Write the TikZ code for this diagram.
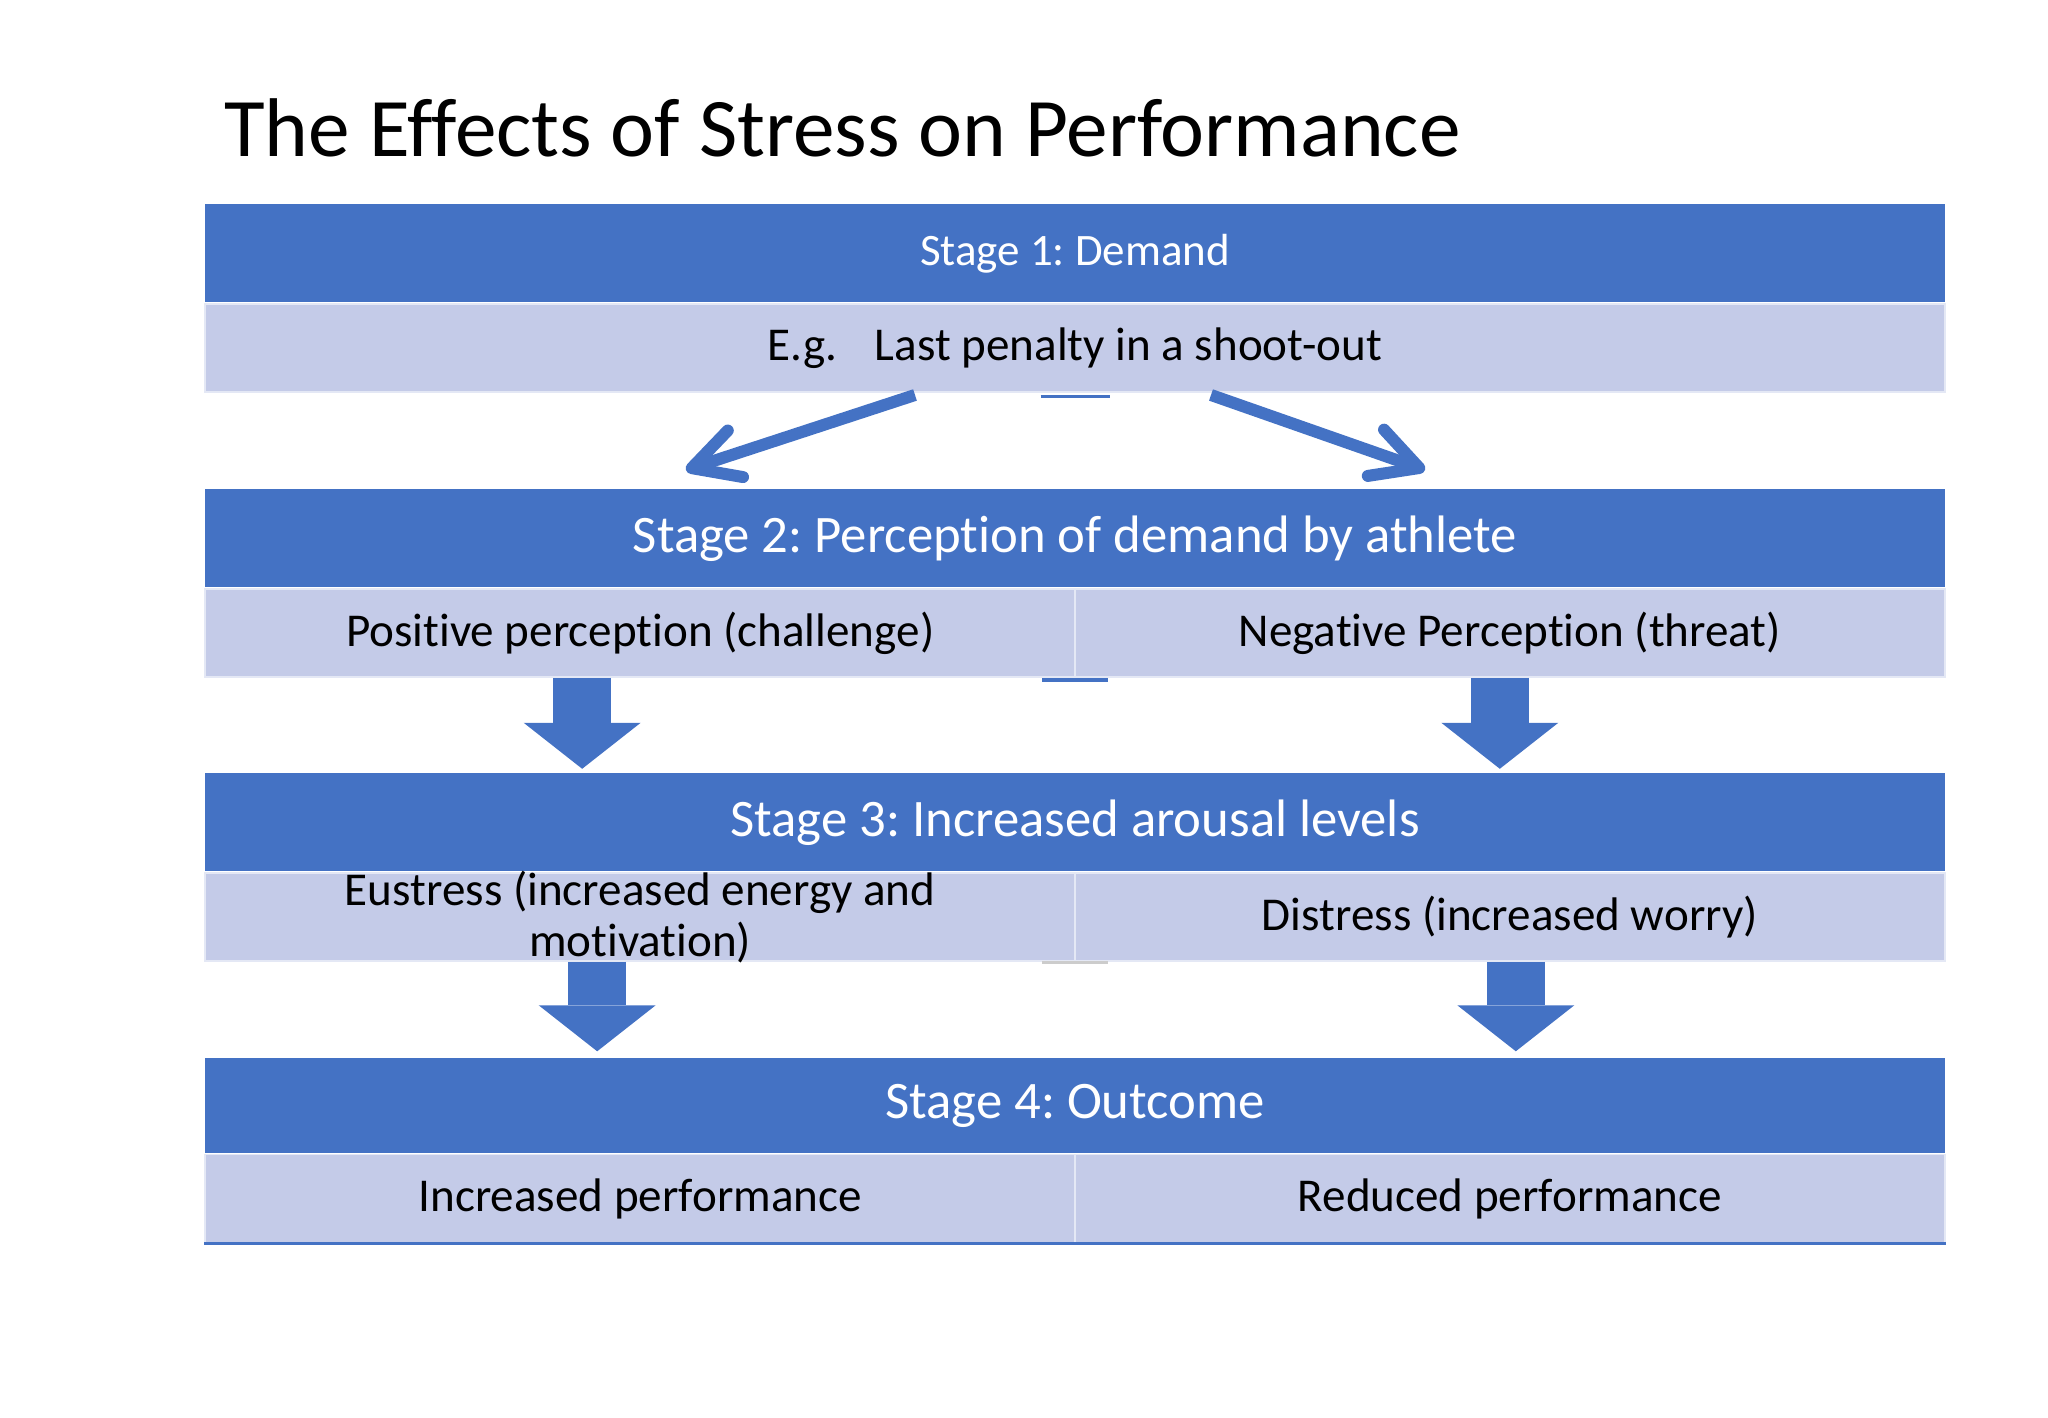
\documentclass[tikz,border=0pt]{standalone}
\usepackage{fontspec}
\setmainfont[Ligatures=CommonOff]{Carlito}
\usetikzlibrary{positioning,arrows.meta}
\definecolor{stageblue}{RGB}{68,114,196}
\definecolor{bandblue}{RGB}{196,203,232}
\frenchspacing

\begin{document}
\begin{tikzpicture}[
        stage/.style={fill=stageblue,text=white,minimum width=17.4cm,
            minimum height=0.98cm,inner sep=0pt},
        band/.style={fill=bandblue,draw=white!55!bandblue,line width=0.5pt,
            minimum height=0.88cm,inner sep=0pt},
        half/.style={band,minimum width=8.7cm},
        body/.style={font=\fontsize{13.4}{14.5}\selectfont},
        head/.style={font=\fontsize{15}{17}\selectfont},
        splitarrow/.style={stageblue,line width=1.2mm,
            -{Straight Barb[round,length=4.6mm,width=4.9mm]}},
        blockarrow/.style={stageblue,line width=5.8mm,
            -{Triangle[length=4.6mm,width=11.7mm,line width=0pt]}},
        tick/.style={stageblue,line width=0.35mm}]
    \useasboundingbox (0,0) rectangle (20.48,-14.18);

    \node[anchor=base west,font=\fontsize{23.7}{28}\selectfont] (title)
        at (2.12,-1.57) {The Effects of Stress on Performance};

    % stage 1
    \node[stage,font=\fontsize{12.8}{15}\selectfont] (s1) at (10.75,-2.535)
        {Stage 1: Demand};
    \node[band,body,minimum width=17.4cm,below=0pt of s1] (eg)
        {E.g.\hspace{0.8em}Last penalty in a shoot-out};

    % stage 2
    \node[stage,head] (s2) at (10.75,-5.385)
        {Stage 2: Perception of demand by athlete};
    \node[half,body,anchor=north west] (pos) at (s2.south west)
        {Positive perception (challenge)};
    \node[half,body,anchor=north east] (neg) at (s2.south east)
        {Negative Perception (threat)};

    % stage 3
    \node[stage,head] (s3) at (10.75,-8.225) {Stage 3: Increased arousal levels};
    \node[half,anchor=north west] (eu) at (s3.south west) {};
    \node[half,body,anchor=north east] (dis) at (s3.south east)
        {Distress (increased worry)};
    \node[body,align=center,inner sep=0pt] (eutext) at (eu.center)
        {Eustress (increased energy and\\motivation)};

    % stage 4
    \node[stage,head,minimum height=0.95cm] (s4) at (10.75,-11.055) {Stage 4: Outcome};
    \node[half,body,anchor=north west] (inc) at (s4.south west)
        {Increased performance};
    \node[half,body,anchor=north east] (red) at (s4.south east)
        {Reduced performance};
    \draw[stageblue,line width=0.8pt] (inc.south west) -- (red.south east);

    % small marks under the bands
    \draw[tick] ([shift={(-0.345,-0.035)}]eg.south) -- ([shift={(0.345,-0.035)}]eg.south);
    \draw[tick] ([shift={(-0.33,-0.02)}]s2.south |- pos.south)
        -- ([shift={(0.33,-0.02)}]s2.south |- pos.south);
    \draw[gray!40,line width=0.3mm] ([shift={(-0.33,-0.01)}]s3.south |- eu.south)
        -- ([shift={(0.33,-0.01)}]s3.south |- eu.south);

    % arrows
    \coordinate (lt) at (9.15,-3.95);
    \coordinate (lh) at (6.86,-4.70);
    \coordinate (rt) at (12.11,-3.95);
    \coordinate (rh) at (14.25,-4.70);
    \draw[splitarrow] (lt) -- (lh);
    \draw[splitarrow] (rt) -- (rh);

    \draw[blockarrow,shorten >=0.4mm] ([xshift=-5.8mm]pos.south)
        -- ([xshift=-5.8mm]pos.south |- s3.north);
    \draw[blockarrow,shorten >=0.4mm] ([xshift=-1mm]neg.south)
        -- ([xshift=-1mm]neg.south |- s3.north);
    \draw[blockarrow,shorten >=0.6mm] ([xshift=-4.3mm]eu.south)
        -- ([xshift=-4.3mm]eu.south |- s4.north);
    \draw[blockarrow,shorten >=0.6mm] ([xshift=0.6mm]dis.south)
        -- ([xshift=0.6mm]dis.south |- s4.north);
\end{tikzpicture}
\end{document}
